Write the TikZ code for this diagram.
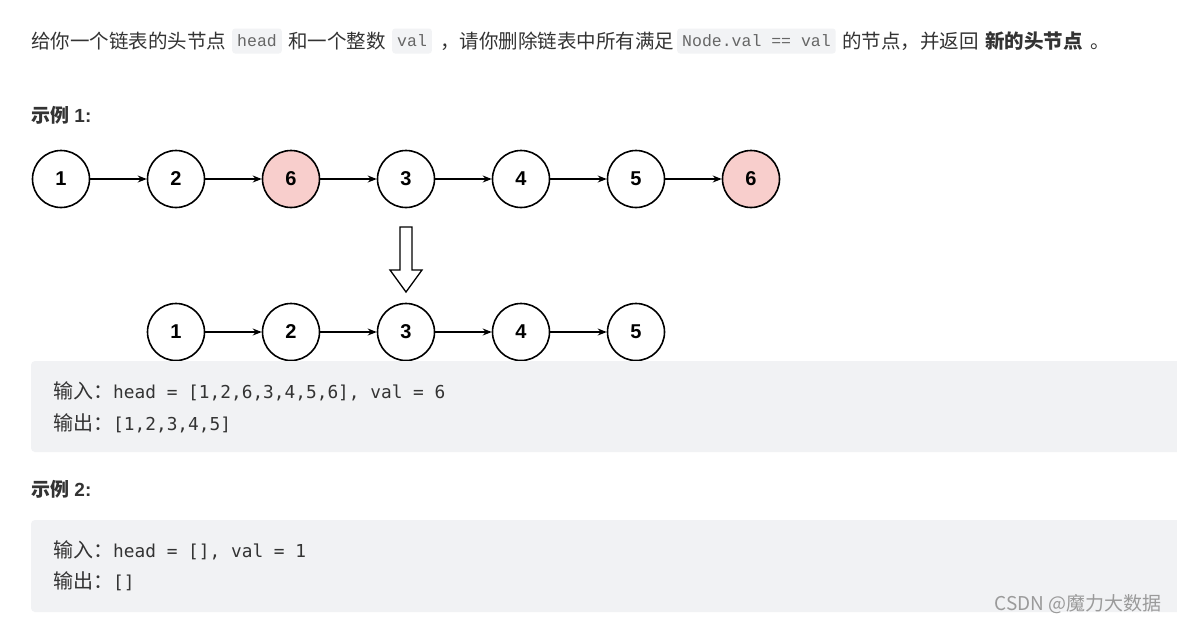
\documentclass[tikz,border=0pt]{standalone}
\usepackage{fontspec}
\setmainfont{Liberation Sans}
\newfontfamily\cjk{Noto Sans CJK SC}
\newfontfamily\cmono{Liberation Mono}
\newfontfamily\dmono{DejaVu Sans Mono}
\newfontfamily\sansbold{Liberation Sans Bold}
\usetikzlibrary{arrows.meta}
\definecolor{txt}{HTML}{333333}
\definecolor{codebg}{HTML}{F1F2F4}
\definecolor{inlinebg}{HTML}{F2F3F5}
\definecolor{inlinetxt}{HTML}{666666}
\definecolor{pinkfill}{HTML}{F8CECC}
\definecolor{wm}{HTML}{9A9A9A}
\tikzset{
  lnode/.style={circle, draw=black, line width=1.6pt, minimum size=57pt, inner sep=0pt,
    font=\fontsize{20}{20}\selectfont\bfseries, text=black, fill=white},
  delnode/.style={lnode, fill=pinkfill},
  link/.style={-{Stealth[length=9pt,width=7pt]}, line width=1.3pt, black},
  plain/.style={anchor=base west, inner sep=0pt, text=txt, font=\cjk\fontsize{19.5}{19.5}\selectfont},
  inlinecode/.style={anchor=west, fill=inlinebg, rounded corners=3pt, inner xsep=5pt, inner ysep=0pt,
    minimum height=25pt, text=inlinetxt, font=\cmono\fontsize{16.5}{16.5}\selectfont},
  heading/.style={anchor=base west, inner sep=0pt, text=txt, font=\fontsize{19}{19}\selectfont},
  codeline/.style={anchor=base west, inner sep=0pt, text=txt, font=\fontsize{17.8}{17.8}\selectfont},
  codebox/.style={fill=codebg, rounded corners=4pt},
}
\begin{document}
\begin{tikzpicture}[x=1pt,y=-1pt]
\useasboundingbox (0,0) rectangle (1177,622);
\fill[white] (0,0) rectangle (1177,622);

% first line of text
\node[plain] (t1) at (31,48) {给你一个链表的头节点};
\node[inlinecode] (c1) at (232,41) {head};
\node[plain] (t2) at (288,48) {和一个整数};
\node[inlinecode] (c2) at (392,41) {val};
\node[plain] (t3) at (440,48) {，请你删除链表中所有满足};
\node[inlinecode] (c3) at (677,41) {Node.val == val};
\node[plain] (t4) at (842,48) {的节点，并返回};
\node[plain, font=\cjk\bfseries\fontsize{19.5}{19.5}\selectfont] (t5) at (985,48) {新的头节点};
\node[plain] (t6) at (1090,48) {。};

% example 1 heading
\node[heading] (h1) at (31,122) {{\cjk\bfseries 示例} {\sansbold 1:}};

% first list
\node[lnode] (a1) at (61,179) {1};
\node[lnode] (a2) at (176,179) {2};
\node[delnode] (a3) at (291,179) {6};
\node[lnode] (a4) at (406,179) {3};
\node[lnode] (a5) at (521,179) {4};
\node[lnode] (a6) at (636,179) {5};
\node[delnode] (a7) at (751,179) {6};
\foreach \i/\j in {a1/a2,a2/a3,a3/a4,a4/a5,a5/a6,a6/a7}
  \draw[link] (\i) -- (\j);

% hollow down arrow
\draw[line width=1.3pt, black, fill=white, line join=miter]
  (400,227) -- (412,227) -- (412,270) -- (422,270) -- (406,292) -- (390,270) -- (400,270) -- cycle;

% second list
\node[lnode] (b1) at (176,332) {1};
\node[lnode] (b2) at (291,332) {2};
\node[lnode] (b3) at (406,332) {3};
\node[lnode] (b4) at (521,332) {4};
\node[lnode] (b5) at (636,332) {5};
\foreach \i/\j in {b1/b2,b2/b3,b3/b4,b4/b5}
  \draw[link] (\i) -- (\j);

% code box 1
\path[codebox] (31,361) rectangle (1190,452);
\node[codeline] (in1) at (53,398) {{\cjk\fontsize{20}{20}\selectfont 输入：}{\dmono head = [1,2,6,3,4,5,6], val = 6}};
\node[codeline] (out1) at (53,430) {{\cjk\fontsize{20}{20}\selectfont 输出：}{\dmono [1,2,3,4,5]}};

% example 2 heading
\node[heading] (h2) at (31,496) {{\cjk\bfseries 示例} {\sansbold 2:}};

% code box 2
\path[codebox] (31,520) rectangle (1190,612);
\node[codeline] (in2) at (53,557) {{\cjk\fontsize{20}{20}\selectfont 输入：}{\dmono head = [], val = 1}};
\node[codeline] (out2) at (53,588) {{\cjk\fontsize{20}{20}\selectfont 输出：}{\dmono []}};

% watermark
\node[anchor=base east, inner sep=0pt, text=wm, font=\cjk\fontsize{19}{19}\selectfont] (wmk) at (1162,610) {CSDN @魔力大数据};
\end{tikzpicture}
\end{document}
